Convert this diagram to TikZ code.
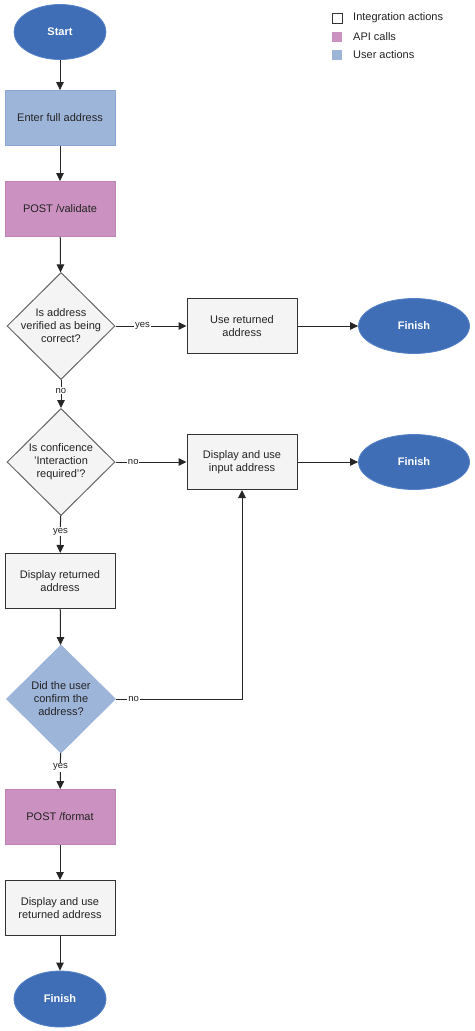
\documentclass[tikz,border=0pt]{standalone}
\usepackage{fontspec}
\setmainfont{Liberation Sans}
\usetikzlibrary{shapes.geometric,arrows.meta}
\definecolor{ellblue}{RGB}{63,110,183}
\definecolor{ellborder}{RGB}{85,130,200}
\definecolor{userblue}{RGB}{158,181,218}
\definecolor{userborder}{RGB}{140,165,210}
\definecolor{apipink}{RGB}{203,145,192}
\definecolor{apiborder}{RGB}{190,130,180}
\definecolor{grayfill}{RGB}{244,244,244}
\definecolor{txt}{RGB}{35,35,35}
\tikzset{
  base/.style={font=\fontsize{11}{13}\selectfont, text=txt, align=center, inner sep=0pt},
  term/.style={base, ellipse, fill=ellblue, draw=ellborder, line width=0.8pt, text=white, font=\fontsize{11}{13}\selectfont\bfseries},
  userbox/.style={base, rectangle, fill=userblue, draw=userborder, line width=0.8pt, minimum width=110pt, minimum height=55pt},
  apibox/.style={base, rectangle, fill=apipink, draw=apiborder, line width=0.8pt, minimum width=110pt, minimum height=55pt},
  intbox/.style={base, rectangle, fill=grayfill, draw=black!80, line width=1pt, minimum width=110pt, minimum height=55pt},
  dia/.style={diamond, aspect=1, inner sep=0pt, minimum width=108pt, minimum height=107pt, fill=grayfill, draw=black!60, line width=1pt},
  udia/.style={diamond, aspect=1, inner sep=0pt, minimum width=109pt, minimum height=108pt, fill=userblue, draw=userblue, line width=0.8pt},
  dtext/.style={base},
  conn/.style={draw=black!85, line width=1pt, -{Triangle[length=8pt,width=7.5pt]}},
  lab/.style={font=\fontsize{9.5}{11}\selectfont, text=txt, fill=white, inner sep=0.8pt},
  legbox/.style={rectangle, minimum size=10pt, inner sep=0pt, line width=0.8pt},
  legtext/.style={base, anchor=west},
}
\begin{document}
\begin{tikzpicture}[x=1pt,y=-1pt]
\useasboundingbox (0,0) rectangle (474,1031);
\fill[white] (0,0) rectangle (474,1031);

% legend
\node[legbox, draw=black!80, fill=white] (l1) at (337,18) {};
\node[legbox, fill=apipink] (l2) at (337,37) {};
\node[legbox, fill=userblue] (l3) at (337,55) {};
\node[legtext] (t1) at (353,18) {Integration actions};
\node[legtext] (t2) at (353,37) {API calls};
\node[legtext] (t3) at (353,55) {User actions};

% nodes
\node[term, minimum width=92pt, minimum height=55pt] (start) at (60,32) {Start};
\node[userbox] (enter) at (60,118) {Enter full address};
\node[apibox] (validate) at (60,209) {POST /validate};
\node[dia] (d1) at (61,326) {};
\node[dtext] at (d1) {Is address\\verified as being\\correct?};
\node[intbox] (usereturned) at (242,326) {Use returned\\address};
\node[term, minimum width=111pt, minimum height=55pt] (fin1) at (414,326) {Finish};
\node[dia] (d2) at (61,462) {};
\node[dtext] at (d2) {Is conficence\\'Interaction\\required'?};
\node[intbox] (dispinput) at (242,462) {Display and use\\input address};
\node[term, minimum width=111pt, minimum height=55pt] (fin2) at (414,462) {Finish};
\node[intbox] (dispret) at (60,581) {Display returned\\address};
\node[udia] (d3) at (61,699) {};
\node[dtext] at (d3) {Did the user\\confirm the\\address?};
\node[apibox] (format) at (60,817) {POST /format};
\node[intbox] (dispuse) at (60,908) {Display and use\\returned address};
\node[term, minimum width=92pt, minimum height=56pt] (fin3) at (60,999) {Finish};

\coordinate (corner) at (242,699);

% connectors
\draw[conn] (start) -- (enter);
\draw[conn] (enter) -- (validate);
\draw[conn] (validate) -- (d1);
\draw[conn] (d1) -- node[lab, pos=0.38] {yes} (usereturned);
\draw[conn] (usereturned) -- (fin1);
\draw[conn] (d1) -- node[lab, pos=0.38] {no} (d2);
\draw[conn] (d2) -- node[lab, pos=0.25] {no} (dispinput);
\draw[conn] (dispinput) -- (fin2);
\draw[conn] (d2) -- node[lab, pos=0.43] {yes} (dispret);
\draw[conn] (dispret) -- (d3);
\draw[conn] (d3.east) -- node[lab, pos=0.14] {no} (corner) -- (dispinput);
\draw[conn] (d3) -- node[lab, pos=0.4] {yes} (format);
\draw[conn] (format) -- (dispuse);
\draw[conn] (dispuse) -- (fin3);
\end{tikzpicture}
\end{document}
